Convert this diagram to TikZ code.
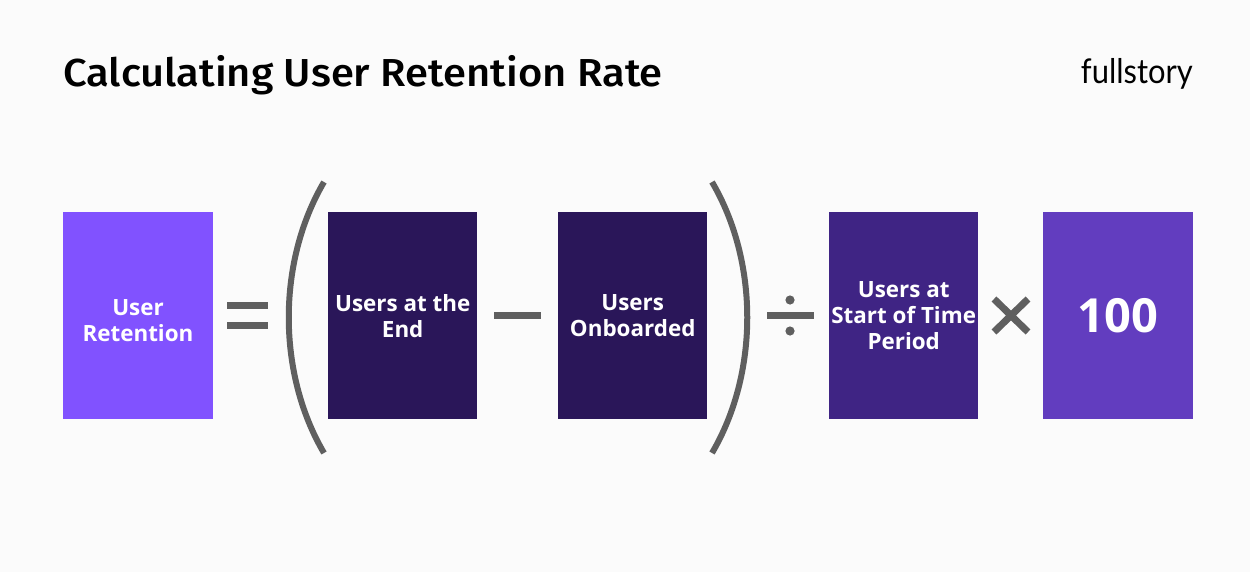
\documentclass[tikz,border=0pt]{standalone}
\usepackage{fontspec}
\setmainfont{Open Sans}
\newfontfamily\titlefont{Fira Sans Medium}
\newfontfamily\boxfontbase{Open Sans}
\newcommand{\boxfont}{\boxfontbase\bfseries}
\newfontfamily\logofont{Lato}
\definecolor{bgc}{HTML}{FBFBFB}
\definecolor{opc}{HTML}{5F5F5F}
\definecolor{c1}{HTML}{8152FF}
\definecolor{c2}{HTML}{2A1659}
\definecolor{c3}{HTML}{3F2484}
\definecolor{c4}{HTML}{623DBF}
\tikzset{
  tile/.style={anchor=north west,minimum width=150pt,minimum height=207pt,inner sep=0pt,
    align=center,text=white,font=\boxfont\fontsize{22.4}{26}\selectfont},
  opline/.style={draw=opc,line width=7pt},
  paren/.style={draw=opc,line width=6pt}
}
\begin{document}
\begin{tikzpicture}[x=1pt,y=-1pt]
\path[use as bounding box,fill=bgc] (0,0) rectangle (1250,572);
\node[anchor=west,font=\titlefont\fontsize{39}{44}\selectfont,text=black,inner sep=0pt,xscale=1.07] (title) at (63,75) {Calculating User Retention Rate};
\node[anchor=east,font=\logofont\fontsize{34}{38}\selectfont,text=black,inner sep=0pt,xscale=0.91] (logo) at (1193,74) {fullstory};
\node[tile,fill=c1] (a) at (63,212) {};
\node[align=center,text=white,font=\boxfont\fontsize{22.4}{26}\selectfont,inner sep=0pt] (atext) at (138,320.5) {User\\Retention};
\node[tile,fill=c2,minimum width=149pt] (b) at (328,212) {Users at the\\End};
\node[tile,fill=c2,minimum width=149pt] (c) at (558,212) {Users\\Onboarded};
\node[tile,fill=c3,minimum width=149pt] (d) at (829,212) {Users at\\Start of Time\\Period};
\node[tile,fill=c4,font=\boxfont\fontsize{47}{50}\selectfont] (e) at (1043,212) {100};
% equals
\draw[opline] (227,305.5) -- (267.5,305.5);
\draw[opline] (227,325.5) -- (267.5,325.5);
% parentheses
\draw[paren] (324,182) .. controls (277,262) and (277,373) .. (324,453);
\draw[paren] (712,182) .. controls (759,262) and (759,373) .. (712,453);
% minus
\draw[opline] (494,315.5) -- (541,315.5);
% divide
\draw[opline] (767,315.5) -- (814,315.5);
\fill[opc] (790,300) circle (4.6);
\fill[opc] (790,331) circle (4.6);
% times
\draw[opline] (994,299) -- (1028,332);
\draw[opline] (1028,299) -- (994,332);
\end{tikzpicture}
\end{document}
